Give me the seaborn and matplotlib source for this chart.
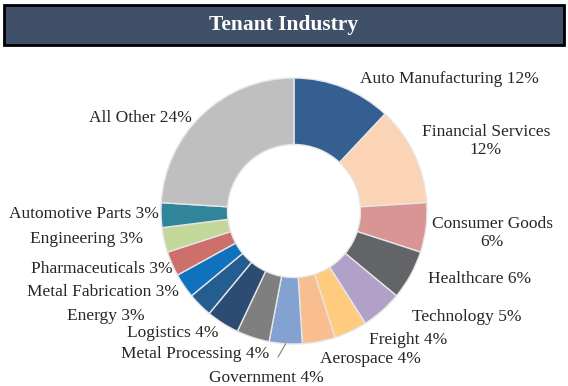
import matplotlib
matplotlib.use('Agg')
import numpy as np
import matplotlib.pyplot as plt
import seaborn as sns
from matplotlib.patches import Rectangle

# data
industries = ['Auto Manufacturing', 'Financial Services', 'Consumer Goods', 'Healthcare',
              'Technology', 'Freight', 'Aerospace', 'Government', 'Metal Processing',
              'Logistics', 'Energy', 'Metal Fabrication', 'Pharmaceuticals', 'Engineering',
              'Automotive Parts', 'All Other']
shares = [12, 12, 6, 6, 5, 4, 4, 4, 4, 4, 3, 3, 3, 3, 3, 24]
colors = ['#355F91', '#FAD4B5', '#D99594', '#636468', '#B1A0C7', '#FECB7F', '#F9BE8F',
          '#84A2D1', '#7F7F7F', '#2C4C74', '#235E8F', '#1072BD', '#CD706C', '#C4D79B',
          '#31859B', '#BFBFBF']
label_text = ['Auto Manufacturing 12%', 'Financial Services\n12%', 'Consumer Goods\n6%',
              'Healthcare 6%', 'Technology 5%', 'Freight 4%', 'Aerospace 4%', 'Government 4%',
              'Metal Processing 4%', 'Logistics 4%', 'Energy 3%', 'Metal Fabrication 3%',
              'Pharmaceuticals 3%', 'Engineering 3%', 'Automotive Parts 3%', 'All Other 24%']

# label centres in image pixels (x from left, y from top)
label_pos = [(449, 79), (486, 141), (492, 233), (480, 279), (467, 317), (408, 340),
             (370, 359), (266, 378), (195, 354), (173, 333), (106, 316), (103, 292),
             (102, 269), (86, 239), (84, 214), (140, 118)]

sns.set_theme(style='white')
plt.rcParams['font.family'] = ['Liberation Serif', 'DejaVu Serif']

W, H = 568, 386
fig = plt.figure(figsize=(W / 100, H / 100), dpi=100)

# title bar
fig.patches.append(Rectangle((4 / W, 1 - 45 / H), 560 / W, 40 / H, transform=fig.transFigure,
                             facecolor='#3F5068', edgecolor='black', linewidth=2))
fig.text(284 / W, 1 - 25 / H, 'Tenant Industry', color='white', fontsize=15.5,
         fontweight='bold', ha='center', va='center')

# donut
cx, cy, r = 294, 211, 133
ax = fig.add_axes([(cx - r) / W, (H - cy - r) / H, 2 * r / W, 2 * r / H])
wedges, _ = ax.pie(shares, colors=colors, startangle=90, counterclock=False, radius=1,
                   wedgeprops=dict(width=0.5, edgecolor='#E6E6E6', linewidth=1))
ax.set_xlim(-1, 1)
ax.set_ylim(-1, 1)
ax.set_aspect('equal')
ax.axis('off')

for i, (txt, (px, py)) in enumerate(zip(label_text, label_pos)):
    if industries[i] == 'Government':
        w = wedges[i]
        mid = np.deg2rad((w.theta1 + w.theta2) / 2)
        ax.annotate(txt, xy=(np.cos(mid), np.sin(mid)), xycoords='data',
                    xytext=(px, H - py), textcoords='figure pixels',
                    ha='center', va='center', fontsize=12.5, color='#262626',
                    arrowprops=dict(arrowstyle='-', color='#7F7F7F', lw=0.8,
                                    shrinkA=8, shrinkB=0))
    else:
        fig.text(px / W, 1 - py / H, txt, ha='center', va='center', fontsize=12.5,
                 color='#262626', linespacing=1.1)

fig.savefig('out.png', dpi=100)
